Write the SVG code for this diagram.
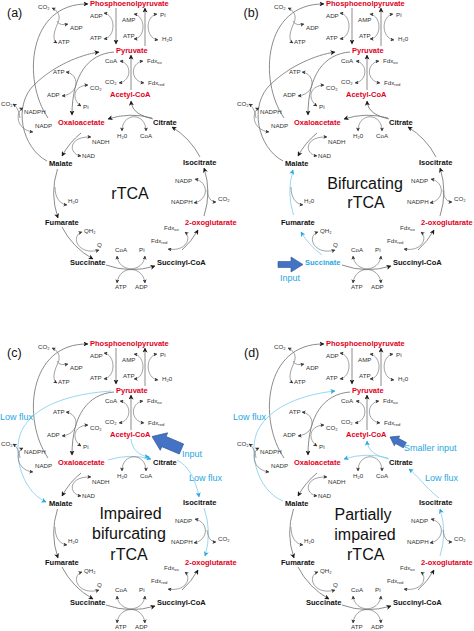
<svg xmlns="http://www.w3.org/2000/svg" width="474" height="631" viewBox="0 0 474 631">
<style>
.t{font-family:"Liberation Sans",Arial,sans-serif}
.m{font-size:7.5px;font-weight:bold;fill:#111}
.r{font-size:7.5px;font-weight:bold;fill:#e0001b}
.c{font-size:6.2px;fill:#333}
.s{font-size:4.2px}
.big{font-size:16px;fill:#111;text-anchor:middle}
.pl{font-size:12.5px;fill:#111}
.cy{font-size:9px;fill:#2aa7df}
.cm{font-size:7.5px;font-weight:bold;fill:#2aa7df}
.l{fill:none;stroke:#6f6f6f;stroke-width:0.8}
.k{fill:none;stroke:#7a7a7a;stroke-width:0.7}
.q{fill:none;stroke:#7fcbeb;stroke-width:0.8}
.e{marker-end:url(#ah)}
.b{marker-start:url(#as);marker-end:url(#as)}
.f{marker-end:url(#as)}
.qe{marker-end:url(#ac)}
.ba{fill:#4472c4;stroke:#2f528f;stroke-width:0.6}
</style>
<defs>
<marker id="ah" viewBox="0 0 10 10" refX="9" refY="5" markerWidth="5" markerHeight="5" markerUnits="userSpaceOnUse" orient="auto-start-reverse"><path d="M0,0 L10,5 L0,10 L2.5,5 z" fill="#1a1a1a"/></marker>
<marker id="as" viewBox="0 0 10 10" refX="9" refY="5" markerWidth="4" markerHeight="4" markerUnits="userSpaceOnUse" orient="auto-start-reverse"><path d="M0,0 L10,5 L0,10 L2.5,5 z" fill="#333"/></marker>
<marker id="ac" viewBox="0 0 10 10" refX="9" refY="5" markerWidth="5" markerHeight="5" markerUnits="userSpaceOnUse" orient="auto-start-reverse"><path d="M0,0 L10,5 L0,10 L2.5,5 z" fill="#27a6df"/></marker>
</defs>
<rect width="474" height="631" fill="#fff"/>

<!-- ================= PANEL A ================= -->
<g id="panel-a">
<g id="a-connectors">
<path class="l e" d="M116,8 L116,44"/>
<path class="l e" d="M145,46 L145,8"/>
<path class="l e" d="M131,90 L131,55"/>
<path class="l e" d="M153,119 C141,116 132,112 131,101"/>
<path class="l e" d="M152,118 A77,77 0 0 0 108,119"/>
<path class="k b" d="M122,131 C122,112 146,112 146,131"/>
<path class="l e" d="M81,133 A77,77 0 0 0 62,156"/>
<path class="k b" d="M91,137 C68,136 68,154 81,156"/>
<path class="l e" d="M57.5,169 A77,77 0 0 0 58,218"/>
<path class="k f" d="M55,187 C55,198 60,204 67,205"/>
<path class="l e" d="M62,227 A77,77 0 0 0 93,259"/>
<path class="k b" d="M82,232 C70,236 78,256 99,250"/>
<path class="l e" d="M106,265 A77,77 0 0 0 155,266"/>
<path class="k b" d="M117,256 C119,273 143,273 145,256"/>
<path class="k b" d="M117,283 C119,265 143,265 145,283"/>
<path class="l e" d="M182,250 A77,77 0 0 0 198,230"/>
<path class="k b" d="M168,249 C186,252 192,238 185,232"/>
<path class="l e" d="M204,216 A77,77 0 0 0 204,168"/>
<path class="k b" d="M195,179 C209,182 209,200 194,203"/>
<path class="k f" d="M207,190 C208,198 211,202 216,202"/>
<path class="l e" d="M200,157 A77,77 0 0 0 172,127"/>
<path class="k b" d="M104,13 C116,15 116,37 104,39"/>
<path class="k b" d="M134,14 C146,16 146,38 134,39"/>
<path class="k b" d="M157,14 C145,16 145,38 158,40"/>
<path class="k b" d="M120,61 C132,63 132,81 119,83"/>
<path class="k b" d="M143,61 C130,63 130,81 144,83"/>
<path class="l e" d="M114,52 C88,54 72,75 72,115"/>
<path class="k b" d="M66,72 C80,74 80,94 62,96"/>
<path class="k b" d="M88,85 C72,86 72,100 81,106"/>
<path class="l e" d="M48,118 C22,80 28,3 88,4"/>
<path class="k b" d="M52,8 C61,12 60,19 57,25 C54,32 52,40 57,43"/>
<path class="k f" d="M57,21 C59,25 63,25 68,24"/>
<path class="l e" d="M47,161 C22,148 12,105 35,84 C55,65 80,55 99,52"/>
<path class="k f" d="M20,118 C19,110 16,106 13,104"/>
<path class="k b" d="M23,108 C15,112 16,130 33,132"/>
</g>
<g id="a-title"><text class="t pl" x="7" y="16.5">(a)</text><text class="t big" x="130" y="199">rTCA</text></g>
<g id="a-pep"><text class="t r" x="90" y="6.2">Phosphoenolpyruvate</text></g>
<g id="a-pyr"><text class="t r" x="116" y="52.5">Pyruvate</text></g>
<g id="a-accoa"><text class="t r" x="110" y="97">Acetyl-CoA</text></g>
<g id="a-oaa"><text class="t r" x="58" y="124.5">Oxaloacetate</text></g>
<g id="a-cit"><text class="t m" x="153" y="125">Citrate</text></g>
<g id="a-mal"><text class="t m" x="49" y="165.5">Malate</text></g>
<g id="a-icit"><text class="t m" x="183" y="165.2">Isocitrate</text></g>
<g id="a-fum"><text class="t m" x="45" y="224.6">Fumarate</text></g>
<g id="a-2og"><text class="t r" x="185" y="224.6">2-oxoglutarate</text></g>
<g id="a-suc"><text class="t m" x="70" y="265">Succinate</text></g>
<g id="a-succoa"><text class="t m" x="157" y="265">Succinyl-CoA</text></g>
<g id="a-cofactors">
<text class="t c" x="38" y="9">CO₂</text><text class="t c" x="70" y="30">ADP</text><text class="t c" x="58" y="44">ATP</text>
<text class="t c" x="90" y="18">ADP</text><text class="t c" x="90" y="40">ATP</text>
<text class="t c" x="122" y="22">AMP</text><text class="t c" x="123" y="38">ATP</text>
<text class="t c" x="160" y="17">Pi</text><text class="t c" x="162" y="41">H₂0</text>
<text class="t c" x="105" y="63">CoA</text><text class="t c" x="147" y="63">Fdx<tspan class="s" dy="1">ox</tspan></text>
<text class="t c" x="53" y="74">ATP</text><text class="t c" x="90" y="90">CO₂</text>
<text class="t c" x="105" y="84">CO₂</text><text class="t c" x="148" y="85">Fdx<tspan class="s" dy="1">red</tspan></text>
<text class="t c" x="47" y="97">ADP</text><text class="t c" x="83" y="109">Pi</text>
<text class="t c" x="1" y="106">CO₂</text><text class="t c" x="24" y="114">NADPH</text><text class="t c" x="35" y="128">NADP</text>
<text class="t c" x="117" y="138">H₂0</text><text class="t c" x="140" y="138">CoA</text>
<text class="t c" x="92" y="144">NADH</text><text class="t c" x="82" y="158">NAD</text>
<text class="t c" x="175" y="183">NADP</text><text class="t c" x="171" y="204">NADPH</text><text class="t c" x="218" y="201">CO₂</text>
<text class="t c" x="68" y="203">H₂0</text>
<text class="t c" x="84" y="233">QH₂</text><text class="t c" x="97" y="247">Q</text>
<text class="t c" x="164" y="230">Fdx<tspan class="s" dy="1">ox</tspan></text><text class="t c" x="151" y="243">Fdx<tspan class="s" dy="1">red</tspan></text>
<text class="t c" x="115" y="252">CoA</text><text class="t c" x="139" y="252">Pi</text>
<text class="t c" x="115" y="289">ATP</text><text class="t c" x="135" y="289">ADP</text>
</g>
</g>

<!-- ================= PANEL B ================= -->
<g id="panel-b" transform="translate(236,0)">
<g id="b-connectors">
<path class="l e" d="M116,8 L116,44"/>
<path class="l e" d="M145,46 L145,8"/>
<path class="l e" d="M131,90 L131,55"/>
<path class="l e" d="M153,119 C141,116 132,112 131,101"/>
<path class="l e" d="M152,118 A77,77 0 0 0 108,119"/>
<path class="k b" d="M122,131 C122,112 146,112 146,131"/>
<path class="l e" d="M81,133 A77,77 0 0 0 62,156"/>
<path class="k b" d="M91,137 C68,136 68,154 81,156"/>
<path class="q qe" d="M57.5,215 A77,77 0 0 1 57,170"/>
<path class="k f" d="M55,187 C55,198 60,204 67,205"/>
<path class="q qe" d="M86,255 A77,77 0 0 1 65,232"/>
<path class="k b" d="M82,232 C70,236 78,256 99,250"/>
<path class="l e" d="M106,265 A77,77 0 0 0 155,266"/>
<path class="k b" d="M117,256 C119,273 143,273 145,256"/>
<path class="k b" d="M117,283 C119,265 143,265 145,283"/>
<path class="l e" d="M182,250 A77,77 0 0 0 198,230"/>
<path class="k b" d="M168,249 C186,252 192,238 185,232"/>
<path class="l e" d="M204,216 A77,77 0 0 0 204,168"/>
<path class="k b" d="M195,179 C209,182 209,200 194,203"/>
<path class="k f" d="M207,190 C208,198 211,202 216,202"/>
<path class="l e" d="M200,157 A77,77 0 0 0 172,127"/>
<path class="k b" d="M104,13 C116,15 116,37 104,39"/>
<path class="k b" d="M134,14 C146,16 146,38 134,39"/>
<path class="k b" d="M157,14 C145,16 145,38 158,40"/>
<path class="k b" d="M120,61 C132,63 132,81 119,83"/>
<path class="k b" d="M143,61 C130,63 130,81 144,83"/>
<path class="l e" d="M114,52 C88,54 72,75 72,115"/>
<path class="k b" d="M66,72 C80,74 80,94 62,96"/>
<path class="k b" d="M88,85 C72,86 72,100 81,106"/>
<path class="l e" d="M48,118 C22,80 28,3 88,4"/>
<path class="k b" d="M52,8 C61,12 60,19 57,25 C54,32 52,40 57,43"/>
<path class="k f" d="M57,21 C59,25 63,25 68,24"/>
<path class="l e" d="M47,161 C22,148 12,105 35,84 C55,65 80,55 99,52"/>
<path class="k f" d="M20,118 C19,110 16,106 13,104"/>
<path class="k b" d="M23,108 C15,112 16,130 33,132"/>
<polygon class="ba" points="42,261.5 55,261.5 55,257 67,264.5 55,272 55,267.5 42,267.5"/>
</g>
<g id="b-title"><text class="t pl" x="7.5" y="16.5">(b)</text><text class="t big" x="129" y="188.5">Bifurcating</text><text class="t big" x="130" y="208">rTCA</text></g>
<g id="b-input"><text class="t cy" x="44" y="281">Input</text></g>
<g id="b-pep"><text class="t r" x="90" y="6.2">Phosphoenolpyruvate</text></g>
<g id="b-pyr"><text class="t r" x="116" y="52.5">Pyruvate</text></g>
<g id="b-accoa"><text class="t r" x="110" y="97">Acetyl-CoA</text></g>
<g id="b-oaa"><text class="t r" x="58" y="124.5">Oxaloacetate</text></g>
<g id="b-cit"><text class="t m" x="153" y="125">Citrate</text></g>
<g id="b-mal"><text class="t m" x="49" y="165.5">Malate</text></g>
<g id="b-icit"><text class="t m" x="183" y="165.2">Isocitrate</text></g>
<g id="b-fum"><text class="t m" x="45" y="224.6">Fumarate</text></g>
<g id="b-2og"><text class="t r" x="185" y="224.6">2-oxoglutarate</text></g>
<g id="b-suc"><text class="t cm" x="69" y="265">Succinate</text></g>
<g id="b-succoa"><text class="t m" x="157" y="265">Succinyl-CoA</text></g>
<g id="b-cofactors">
<text class="t c" x="38" y="9">CO₂</text><text class="t c" x="70" y="30">ADP</text><text class="t c" x="58" y="44">ATP</text>
<text class="t c" x="90" y="18">ADP</text><text class="t c" x="90" y="40">ATP</text>
<text class="t c" x="122" y="22">AMP</text><text class="t c" x="123" y="38">ATP</text>
<text class="t c" x="160" y="17">Pi</text><text class="t c" x="162" y="41">H₂0</text>
<text class="t c" x="105" y="63">CoA</text><text class="t c" x="147" y="63">Fdx<tspan class="s" dy="1">ox</tspan></text>
<text class="t c" x="53" y="74">ATP</text><text class="t c" x="90" y="90">CO₂</text>
<text class="t c" x="105" y="84">CO₂</text><text class="t c" x="148" y="85">Fdx<tspan class="s" dy="1">red</tspan></text>
<text class="t c" x="47" y="97">ADP</text><text class="t c" x="83" y="109">Pi</text>
<text class="t c" x="1" y="106">CO₂</text><text class="t c" x="24" y="114">NADPH</text><text class="t c" x="35" y="128">NADP</text>
<text class="t c" x="117" y="138">H₂0</text><text class="t c" x="140" y="138">CoA</text>
<text class="t c" x="92" y="144">NADH</text><text class="t c" x="82" y="158">NAD</text>
<text class="t c" x="175" y="183">NADP</text><text class="t c" x="171" y="204">NADPH</text><text class="t c" x="218" y="201">CO₂</text>
<text class="t c" x="68" y="203">H₂0</text>
<text class="t c" x="84" y="233">QH₂</text><text class="t c" x="97" y="247">Q</text>
<text class="t c" x="164" y="230">Fdx<tspan class="s" dy="1">ox</tspan></text><text class="t c" x="151" y="243">Fdx<tspan class="s" dy="1">red</tspan></text>
<text class="t c" x="115" y="252">CoA</text><text class="t c" x="139" y="252">Pi</text>
<text class="t c" x="115" y="289">ATP</text><text class="t c" x="135" y="289">ADP</text>
</g>
</g>

<!-- ================= PANEL C ================= -->
<g id="panel-c" transform="translate(0,340)">
<g id="c-connectors">
<path class="l e" d="M116,8 L116,44"/>
<path class="l e" d="M145,46 L145,8"/>
<path class="l e" d="M131,90 L131,55"/>
<path class="q qe" d="M131,99 C132,110 140,116 149,117"/>
<path class="q qe" d="M108,120 A77,77 0 0 1 151,119"/>
<path class="k b" d="M122,131 C122,112 146,112 146,131"/>
<path class="l e" d="M81,133 A77,77 0 0 0 62,156"/>
<path class="k b" d="M91,137 C68,136 68,154 81,156"/>
<path class="l e" d="M57.5,169 A77,77 0 0 0 58,218"/>
<path class="k f" d="M55,187 C55,198 60,204 67,205"/>
<path class="l e" d="M62,227 A77,77 0 0 0 93,259"/>
<path class="k b" d="M82,232 C70,236 78,256 99,250"/>
<path class="l e" d="M106,265 A77,77 0 0 0 155,266"/>
<path class="k b" d="M117,256 C119,273 143,273 145,256"/>
<path class="k b" d="M117,283 C119,265 143,265 145,283"/>
<path class="l e" d="M182,250 A77,77 0 0 0 198,230"/>
<path class="k b" d="M168,249 C186,252 192,238 185,232"/>
<path class="q qe" d="M204,168 A77,77 0 0 1 205,216"/>
<path class="k b" d="M195,179 C209,182 209,200 194,203"/>
<path class="k f" d="M207,190 C208,198 211,202 216,202"/>
<path class="q qe" d="M177,120 C188,125 196,140 199,157"/>
<path class="k b" d="M104,13 C116,15 116,37 104,39"/>
<path class="k b" d="M134,14 C146,16 146,38 134,39"/>
<path class="k b" d="M157,14 C145,16 145,38 158,40"/>
<path class="k b" d="M120,61 C132,63 132,81 119,83"/>
<path class="k b" d="M143,61 C130,63 130,81 144,83"/>
<path class="l e" d="M114,52 C88,54 72,75 72,115"/>
<path class="k b" d="M66,72 C80,74 80,94 62,96"/>
<path class="k b" d="M88,85 C72,86 72,100 81,106"/>
<path class="l e" d="M48,118 C22,80 28,3 88,4"/>
<path class="k b" d="M52,8 C61,12 60,19 57,25 C54,32 52,40 57,43"/>
<path class="k f" d="M57,21 C59,25 63,25 68,24"/>
<path class="q qe" d="M111,51 C70,54 35,65 22,90 C12,110 20,150 46,162"/>
<path class="k f" d="M20,118 C19,110 16,106 13,104"/>
<path class="k b" d="M23,108 C15,112 16,130 33,132"/>
<polygon class="ba" transform="translate(152,96.5) rotate(203)" points="0,0 -13,-9.5 -13,-5.5 -32,-5.5 -32,5.5 -13,5.5 -13,9.5"/>
</g>
<g id="c-title"><text class="t pl" x="7" y="16.5">(c)</text><text class="t big" x="130.5" y="179">Impaired</text><text class="t big" x="129" y="199">bifurcating</text><text class="t big" x="129" y="220">rTCA</text></g>
<g id="c-notes"><text class="t cy" x="0" y="80">Low flux</text><text class="t cy" x="189" y="141">Low flux</text><text class="t cy" x="182" y="117">Input</text></g>
<g id="c-pep"><text class="t r" x="90" y="6.2">Phosphoenolpyruvate</text></g>
<g id="c-pyr"><text class="t r" x="116" y="52.5">Pyruvate</text></g>
<g id="c-accoa"><text class="t r" x="110" y="97">Acetyl-CoA</text></g>
<g id="c-oaa"><text class="t r" x="58" y="124.5">Oxaloacetate</text></g>
<g id="c-cit"><text class="t m" x="153" y="125">Citrate</text></g>
<g id="c-mal"><text class="t m" x="49" y="165.5">Malate</text></g>
<g id="c-icit"><text class="t m" x="183" y="165.2">Isocitrate</text></g>
<g id="c-fum"><text class="t m" x="45" y="224.6">Fumarate</text></g>
<g id="c-2og"><text class="t r" x="185" y="224.6">2-oxoglutarate</text></g>
<g id="c-suc"><text class="t m" x="70" y="265">Succinate</text></g>
<g id="c-succoa"><text class="t m" x="157" y="265">Succinyl-CoA</text></g>
<g id="c-cofactors">
<text class="t c" x="38" y="9">CO₂</text><text class="t c" x="70" y="30">ADP</text><text class="t c" x="58" y="44">ATP</text>
<text class="t c" x="90" y="18">ADP</text><text class="t c" x="90" y="40">ATP</text>
<text class="t c" x="122" y="22">AMP</text><text class="t c" x="123" y="38">ATP</text>
<text class="t c" x="160" y="17">Pi</text><text class="t c" x="162" y="41">H₂0</text>
<text class="t c" x="105" y="63">CoA</text><text class="t c" x="147" y="63">Fdx<tspan class="s" dy="1">ox</tspan></text>
<text class="t c" x="53" y="74">ATP</text><text class="t c" x="90" y="90">CO₂</text>
<text class="t c" x="105" y="84">CO₂</text><text class="t c" x="148" y="85">Fdx<tspan class="s" dy="1">red</tspan></text>
<text class="t c" x="47" y="97">ADP</text><text class="t c" x="83" y="109">Pi</text>
<text class="t c" x="1" y="106">CO₂</text><text class="t c" x="24" y="114">NADPH</text><text class="t c" x="35" y="128">NADP</text>
<text class="t c" x="117" y="138">H₂0</text><text class="t c" x="140" y="138">CoA</text>
<text class="t c" x="92" y="144">NADH</text><text class="t c" x="82" y="158">NAD</text>
<text class="t c" x="175" y="183">NADP</text><text class="t c" x="171" y="204">NADPH</text><text class="t c" x="218" y="201">CO₂</text>
<text class="t c" x="68" y="203">H₂0</text>
<text class="t c" x="84" y="233">QH₂</text><text class="t c" x="97" y="247">Q</text>
<text class="t c" x="164" y="230">Fdx<tspan class="s" dy="1">ox</tspan></text><text class="t c" x="151" y="243">Fdx<tspan class="s" dy="1">red</tspan></text>
<text class="t c" x="115" y="252">CoA</text><text class="t c" x="139" y="252">Pi</text>
<text class="t c" x="115" y="289">ATP</text><text class="t c" x="135" y="289">ADP</text>
</g>
</g>

<!-- ================= PANEL D ================= -->
<g id="panel-d" transform="translate(236,340)">
<g id="d-connectors">
<path class="l e" d="M116,8 L116,44"/>
<path class="l e" d="M145,46 L145,8"/>
<path class="l e" d="M131,90 L131,55"/>
<path class="q qe" d="M153,119 C141,116 132,112 131,101"/>
<path class="q qe" d="M152,118 A77,77 0 0 0 108,119"/>
<path class="k b" d="M122,131 C122,112 146,112 146,131"/>
<path class="l e" d="M81,133 A77,77 0 0 0 62,156"/>
<path class="k b" d="M91,137 C68,136 68,154 81,156"/>
<path class="l e" d="M57.5,169 A77,77 0 0 0 58,218"/>
<path class="k f" d="M55,187 C55,198 60,204 67,205"/>
<path class="l e" d="M62,227 A77,77 0 0 0 93,259"/>
<path class="k b" d="M82,232 C70,236 78,256 99,250"/>
<path class="l e" d="M106,265 A77,77 0 0 0 155,266"/>
<path class="k b" d="M117,256 C119,273 143,273 145,256"/>
<path class="k b" d="M117,283 C119,265 143,265 145,283"/>
<path class="l e" d="M182,250 A77,77 0 0 0 198,230"/>
<path class="k b" d="M168,249 C186,252 192,238 185,232"/>
<path class="q qe" d="M204,216 A77,77 0 0 0 204,169"/>
<path class="k b" d="M195,179 C209,182 209,200 194,203"/>
<path class="k f" d="M207,190 C208,198 211,202 216,202"/>
<path class="q qe" d="M203,158 C190,148 182,136 173,129"/>
<path class="k b" d="M104,13 C116,15 116,37 104,39"/>
<path class="k b" d="M134,14 C146,16 146,38 134,39"/>
<path class="k b" d="M157,14 C145,16 145,38 158,40"/>
<path class="k b" d="M120,61 C132,63 132,81 119,83"/>
<path class="k b" d="M143,61 C130,63 130,81 144,83"/>
<path class="l e" d="M114,52 C88,54 72,75 72,115"/>
<path class="k b" d="M66,72 C80,74 80,94 62,96"/>
<path class="k b" d="M88,85 C72,86 72,100 81,106"/>
<path class="l e" d="M48,118 C22,80 28,3 88,4"/>
<path class="k b" d="M52,8 C61,12 60,19 57,25 C54,32 52,40 57,43"/>
<path class="k f" d="M57,21 C59,25 63,25 68,24"/>
<path class="q qe" d="M47,161 C20,150 12,110 22,90 C35,65 70,54 99,51"/>
<path class="k f" d="M20,118 C19,110 16,106 13,104"/>
<path class="k b" d="M23,108 C15,112 16,130 33,132"/>
<polygon class="ba" transform="translate(154,97) rotate(209)" points="0,0 -8,-5.5 -8,-3 -17,-3 -17,3 -8,3 -8,5.5"/>
</g>
<g id="d-title"><text class="t pl" x="8" y="16.5">(d)</text><text class="t big" x="127" y="180">Partially</text><text class="t big" x="129" y="199.5">impaired</text><text class="t big" x="129.7" y="220">rTCA</text></g>
<g id="d-notes"><text class="t cy" x="-3" y="80">Low flux</text><text class="t cy" x="189" y="141">Low flux</text><text class="t cy" x="168" y="110.5">Smaller input</text></g>
<g id="d-pep"><text class="t r" x="90" y="6.2">Phosphoenolpyruvate</text></g>
<g id="d-pyr"><text class="t r" x="116" y="52.5">Pyruvate</text></g>
<g id="d-accoa"><text class="t r" x="110" y="97">Acetyl-CoA</text></g>
<g id="d-oaa"><text class="t r" x="58" y="124.5">Oxaloacetate</text></g>
<g id="d-cit"><text class="t m" x="153" y="125">Citrate</text></g>
<g id="d-mal"><text class="t m" x="49" y="165.5">Malate</text></g>
<g id="d-icit"><text class="t m" x="183" y="165.2">Isocitrate</text></g>
<g id="d-fum"><text class="t m" x="45" y="224.6">Fumarate</text></g>
<g id="d-2og"><text class="t r" x="185" y="224.6">2-oxoglutarate</text></g>
<g id="d-suc"><text class="t m" x="70" y="265">Succinate</text></g>
<g id="d-succoa"><text class="t m" x="157" y="265">Succinyl-CoA</text></g>
<g id="d-cofactors">
<text class="t c" x="38" y="9">CO₂</text><text class="t c" x="70" y="30">ADP</text><text class="t c" x="58" y="44">ATP</text>
<text class="t c" x="90" y="18">ADP</text><text class="t c" x="90" y="40">ATP</text>
<text class="t c" x="122" y="22">AMP</text><text class="t c" x="123" y="38">ATP</text>
<text class="t c" x="160" y="17">Pi</text><text class="t c" x="162" y="41">H₂0</text>
<text class="t c" x="105" y="63">CoA</text><text class="t c" x="147" y="63">Fdx<tspan class="s" dy="1">ox</tspan></text>
<text class="t c" x="53" y="74">ATP</text><text class="t c" x="90" y="90">CO₂</text>
<text class="t c" x="105" y="84">CO₂</text><text class="t c" x="148" y="85">Fdx<tspan class="s" dy="1">red</tspan></text>
<text class="t c" x="47" y="97">ADP</text><text class="t c" x="83" y="109">Pi</text>
<text class="t c" x="1" y="106">CO₂</text><text class="t c" x="24" y="114">NADPH</text><text class="t c" x="35" y="128">NADP</text>
<text class="t c" x="117" y="138">H₂0</text><text class="t c" x="140" y="138">CoA</text>
<text class="t c" x="92" y="144">NADH</text><text class="t c" x="82" y="158">NAD</text>
<text class="t c" x="175" y="183">NADP</text><text class="t c" x="171" y="204">NADPH</text><text class="t c" x="218" y="201">CO₂</text>
<text class="t c" x="68" y="203">H₂0</text>
<text class="t c" x="84" y="233">QH₂</text><text class="t c" x="97" y="247">Q</text>
<text class="t c" x="164" y="230">Fdx<tspan class="s" dy="1">ox</tspan></text><text class="t c" x="151" y="243">Fdx<tspan class="s" dy="1">red</tspan></text>
<text class="t c" x="115" y="252">CoA</text><text class="t c" x="139" y="252">Pi</text>
<text class="t c" x="115" y="289">ATP</text><text class="t c" x="135" y="289">ADP</text>
</g>
</g>
</svg>
